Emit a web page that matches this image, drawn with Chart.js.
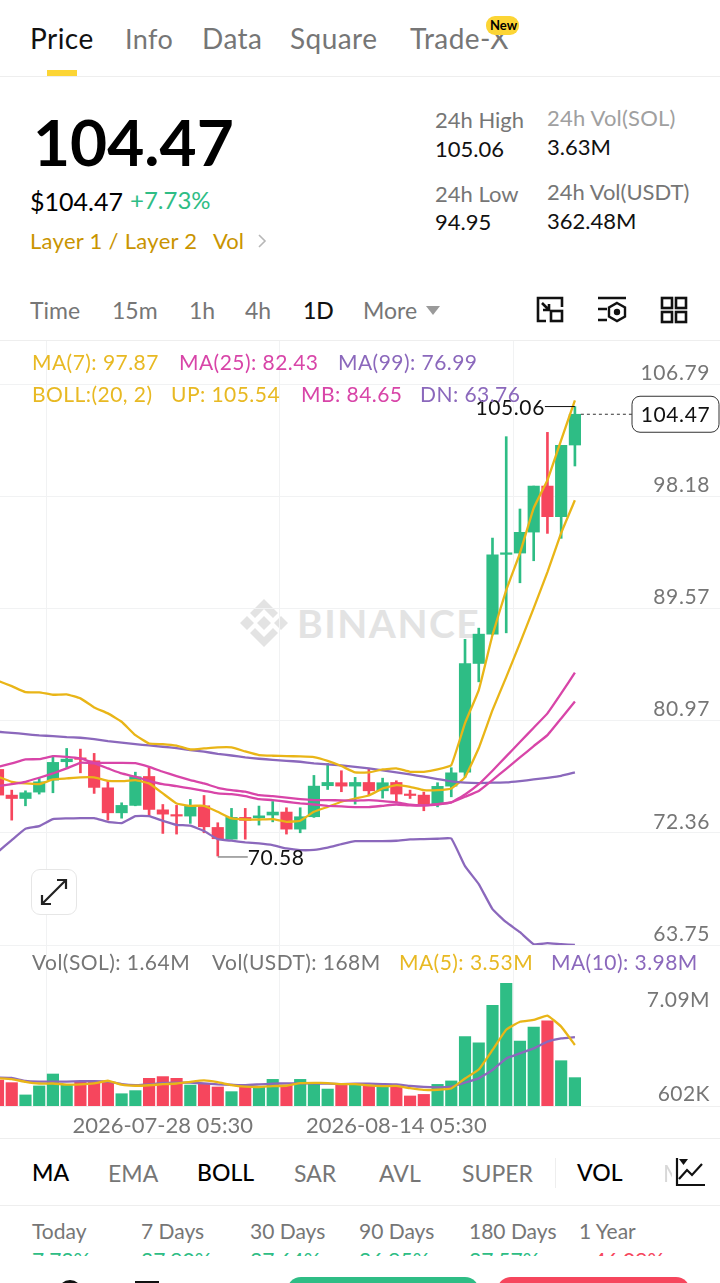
<!DOCTYPE html>
<html>
<head>
<meta charset="utf-8">
<title>SOL chart</title>
<script src="https://cdn.jsdelivr.net/npm/chart.js@4"></script>
<style>
html, body { margin: 0; padding: 0; background: #fff; }
#page { position: relative; width: 720px; height: 1283px; overflow: hidden; font-family: Lato, sans-serif; color: #000; }
.t { position: absolute; white-space: nowrap; line-height: 1; transform: translateY(-50%); }
.s { letter-spacing: .45px; }
.g { color: #767676; } .lg { color: #a0a0a0; } .k { color: #111; }
.line { position: absolute; left: 0; width: 720px; height: 1px; background: #eeeeee; }
.wrap { position: absolute; left: 0; width: 720px; overflow: hidden; }
.wrap canvas { position: absolute; left: -2px; top: 0; }
svg { position: absolute; }
</style>
</head>
<body>
<div id="page">
  <div class="t k s" style="left:30px;top:38px;font-size:28px;">Price</div>
  <div class="t g s" style="left:125px;top:38px;font-size:27px;">Info</div>
  <div class="t g s" style="left:202px;top:38px;font-size:28px;">Data</div>
  <div class="t g s" style="left:290px;top:38px;font-size:28px;">Square</div>
  <div class="t g s" style="left:410px;top:38px;font-size:28px;">Trade-X</div>
  <div style="position:absolute;left:486px;top:16px;width:33px;height:19px;border-radius:9px;background:#fcd535;"></div>
  <div class="t" style="left:490px;top:25px;font-size:13px;font-weight:700;">New</div>
  <div style="position:absolute;left:47px;top:70px;width:30px;height:6px;background:#fcd535;"></div>
  <div class="line" style="top:76px;"></div>

  <div class="t" style="left:33px;top:142px;font-size:64px;font-weight:700;">104.47</div>
  <div class="t" style="left:30px;top:201px;font-size:25px;">$104.47</div>
  <div class="t" style="left:130px;top:200px;font-size:24px;color:#2ebd85;">+7.73%</div>
  <div class="t" style="left:30px;top:241px;font-size:22px;letter-spacing:.3px;color:#c99400;">Layer 1 / Layer 2</div>
  <div class="t" style="left:213px;top:241px;font-size:22px;color:#c99400;">Vol</div>
  <svg style="left:256px;top:232px;" width="12" height="18"><path d="M3 3l6 6-6 6" fill="none" stroke="#b7b7b7" stroke-width="1.6"/></svg>

  <div class="t g" style="left:435px;top:120px;font-size:22px;">24h High</div>
  <div class="t k" style="left:435px;top:149px;font-size:22px;">105.06</div>
  <div class="t lg" style="left:547px;top:118px;font-size:22px;letter-spacing:.2px;">24h Vol(SOL)</div>
  <div class="t k" style="left:547px;top:147px;font-size:22px;">3.63M</div>
  <div class="t g" style="left:435px;top:194px;font-size:22px;">24h Low</div>
  <div class="t k" style="left:435px;top:222px;font-size:22px;">94.95</div>
  <div class="t g" style="left:547px;top:192px;font-size:22px;">24h Vol(USDT)</div>
  <div class="t k" style="left:547px;top:221px;font-size:22px;">362.48M</div>

  <div class="t g" style="left:30px;top:310px;font-size:23px;">Time</div>
  <div class="t g" style="left:112px;top:310px;font-size:23px;">15m</div>
  <div class="t g" style="left:189px;top:310px;font-size:23px;">1h</div>
  <div class="t g" style="left:245px;top:310px;font-size:23px;">4h</div>
  <div class="t k" style="left:303px;top:310px;font-size:23px;font-weight:500;">1D</div>
  <div class="t g" style="left:363px;top:310px;font-size:23px;">More</div>
  <svg style="left:425px;top:305px;" width="16" height="11"><path d="M1 1h14l-7 9z" fill="#9a9a9a"/></svg>
  <svg style="left:536px;top:296px;" width="28" height="28" fill="none" stroke="#111" stroke-width="2.6"><path d="M10 25H2V2h24v9"/><rect x="15" y="15" width="11" height="10"/><path d="M6 7l7 7M13 8v6H7"/></svg>
  <svg style="left:597px;top:296px;" width="30" height="28" fill="none" stroke="#111" stroke-width="2.4"><path d="M1 2h28M1 13h9M1 24h9"/><path d="M20 7l8 4.500v9L20 25l-8-4.500v-9z"/><circle cx="20" cy="16" r="2" fill="#111"/></svg>
  <svg style="left:660px;top:296px;" width="28" height="28" fill="none" stroke="#111" stroke-width="2.6"><rect x="2" y="2" width="10" height="10"/><rect x="16" y="2" width="10" height="10"/><rect x="2" y="16" width="10" height="10"/><rect x="16" y="16" width="10" height="10"/></svg>
  <div class="line" style="top:340px;"></div>

  <!-- watermark sits under the candles -->
  <svg style="left:240px;top:599px;" width="48" height="48" fill="#e3e3e3"><path d="M24 0l14 14-5 5-9-9-9 9-5-5zM24 48L10 34l5-5 9 9 9-9 5 5zM7 17l7 7-7 7-7-7zM41 17l7 7-7 7-7-7zM24 17l7 7-7 7-7-7z"/></svg>
  <div class="t" style="left:297px;top:623px;font-size:39px;font-weight:700;color:#e3e3e3;letter-spacing:1.5px;">BINANCE</div>

  <div class="wrap" style="top:341px;height:605px;"><canvas id="priceChart" width="728" height="605"></canvas></div>
  <div class="wrap" style="top:945px;height:193px;"><canvas id="volChart" width="728" height="193"></canvas></div>

  <div class="t s" style="left:32px;top:361px;font-size:21px;color:#e8b923;">MA(7): 97.87</div>
  <div class="t s" style="left:179px;top:361px;font-size:21px;color:#d845a8;">MA(25): 82.43</div>
  <div class="t s" style="left:338px;top:361px;font-size:21px;color:#8b68bc;">MA(99): 76.99</div>
  <div class="t s" style="left:32px;top:393px;font-size:21px;color:#e8b923;">BOLL:(20, 2)</div>
  <div class="t s" style="left:171px;top:393px;font-size:21px;color:#e8b923;">UP: 105.54</div>
  <div class="t s" style="left:301px;top:393px;font-size:21px;color:#d845a8;">MB: 84.65</div>
  <div class="t s" style="left:420px;top:393px;font-size:21px;color:#8b68bc;">DN: 63.76</div>

  <div style="position:absolute;left:31px;top:869px;width:44px;height:44px;border:1px solid #e6e6e6;border-radius:9px;background:#fff;"></div>
  <svg style="left:40px;top:878px;" width="28" height="28" fill="none" stroke="#222" stroke-width="2.2"><path d="M2 26L26 2M17 2h9v9M2 17v9h9"/></svg>

  <div class="t g s" style="left:32px;top:961px;font-size:21px;">Vol(SOL): 1.64M</div>
  <div class="t g s" style="left:212px;top:961px;font-size:21px;">Vol(USDT): 168M</div>
  <div class="t s" style="left:399px;top:961px;font-size:21px;color:#e8b923;">MA(5): 3.53M</div>
  <div class="t s" style="left:551px;top:961px;font-size:21px;color:#8b68bc;">MA(10): 3.98M</div>
  <div class="t g s" style="right:10px;top:998px;font-size:21px;">7.09M</div>
  <div class="t g s" style="right:10px;top:1092px;font-size:21px;">602K</div>

  <div class="line" style="top:1138px;"></div>
  <div class="t" style="left:32px;top:1172px;font-size:23px;font-weight:500;">MA</div>
  <div class="t g" style="left:108px;top:1173px;font-size:23px;">EMA</div>
  <div class="t" style="left:197px;top:1172px;font-size:23px;font-weight:500;">BOLL</div>
  <div class="t g" style="left:294px;top:1173px;font-size:23px;">SAR</div>
  <div class="t g" style="left:379px;top:1173px;font-size:23px;">AVL</div>
  <div class="t g" style="left:462px;top:1173px;font-size:23px;">SUPER</div>
  <div style="position:absolute;left:555px;top:1158px;width:1px;height:30px;background:#eeeeee;"></div>
  <div class="t" style="left:577px;top:1172px;font-size:23px;font-weight:500;">VOL</div>
  <div class="t" style="left:663px;top:1173px;font-size:23px;color:#d8d8d8;">M</div>
  <div style="position:absolute;left:672px;top:1156px;width:48px;height:34px;background:#fff;"></div>
  <svg style="left:675px;top:1156px;" width="31" height="32" fill="none" stroke="#111" stroke-width="2.2"><path d="M2 2v27h28M4 23l8-9 5 5 10-11"/><path d="M4 3h9l-4.500 6z" fill="#111" stroke="none"/></svg>
  <div class="line" style="top:1205px;"></div>

  <div class="t g" style="left:32px;top:1230px;font-size:21px;">Today</div>
  <div class="t g" style="left:141px;top:1230px;font-size:21px;">7 Days</div>
  <div class="t g" style="left:250px;top:1230px;font-size:21px;">30 Days</div>
  <div class="t g" style="left:359px;top:1230px;font-size:21px;">90 Days</div>
  <div class="t g" style="left:469px;top:1230px;font-size:21px;">180 Days</div>
  <div class="t g" style="left:579px;top:1230px;font-size:21px;">1 Year</div>
  <div class="t" style="left:32px;top:1259px;font-size:21px;color:#2ebd85;">7.73%</div>
  <div class="t" style="left:141px;top:1259px;font-size:21px;color:#2ebd85;">27.90%</div>
  <div class="t" style="left:250px;top:1259px;font-size:21px;color:#2ebd85;">37.64%</div>
  <div class="t" style="left:359px;top:1259px;font-size:21px;color:#2ebd85;">26.95%</div>
  <div class="t" style="left:469px;top:1259px;font-size:21px;color:#2ebd85;">37.57%</div>
  <div class="t" style="left:586px;top:1259px;font-size:21px;color:#f6465d;">-46.09%</div>
  <div style="position:absolute;left:0;top:1256px;width:720px;height:27px;background:#fff;"></div>
  <div style="position:absolute;left:58px;top:1280px;width:24px;height:24px;border-radius:12px;border:3px solid #111;box-sizing:border-box;"></div>
  <div style="position:absolute;left:135px;top:1281px;width:24px;height:2px;background:#111;"></div>
  <div style="position:absolute;left:287px;top:1277px;width:192px;height:30px;border-radius:14px;background:#2ebd85;"></div>
  <div style="position:absolute;left:497px;top:1277px;width:193px;height:30px;border-radius:14px;background:#f6465d;"></div>
</div>

<script>
const dates = [
  "2026-07-16 05:30", "2026-07-17 05:30", "2026-07-18 05:30", "2026-07-19 05:30", "2026-07-20 05:30",
  "2026-07-21 05:30", "2026-07-22 05:30", "2026-07-23 05:30", "2026-07-24 05:30", "2026-07-25 05:30",
  "2026-07-26 05:30", "2026-07-27 05:30", "2026-07-28 05:30", "2026-07-29 05:30", "2026-07-30 05:30",
  "2026-07-31 05:30", "2026-08-01 05:30", "2026-08-02 05:30", "2026-08-03 05:30", "2026-08-04 05:30",
  "2026-08-05 05:30", "2026-08-06 05:30", "2026-08-07 05:30", "2026-08-08 05:30", "2026-08-09 05:30",
  "2026-08-10 05:30", "2026-08-11 05:30", "2026-08-12 05:30", "2026-08-13 05:30", "2026-08-14 05:30",
  "2026-08-15 05:30", "2026-08-16 05:30", "2026-08-17 05:30", "2026-08-18 05:30", "2026-08-19 05:30",
  "2026-08-20 05:30", "2026-08-21 05:30", "2026-08-22 05:30", "2026-08-23 05:30", "2026-08-24 05:30",
  "2026-08-25 05:30", "2026-08-26 05:30", "2026-08-27 05:30"
];
const opens = [77.22, 75.25, 74.99, 75.48, 76.40, 77.81, 78.11, 77.88, 75.81, 73.89, 74.46, 76.68, 74.12, 73.74, 73.64, 74.43, 72.77, 71.87, 73.54, 73.51, 73.72, 73.95, 72.64, 73.59, 75.97, 76.20, 75.94, 76.22, 75.58, 76.22, 75.33, 75.25, 74.56, 75.94, 77.01, 85.35, 87.60, 93.72, 93.82, 95.43, 98.96, 96.61, 102.11];
const closes = [75.25, 74.99, 75.43, 76.27, 77.76, 78.01, 77.99, 75.84, 73.89, 74.46, 76.66, 74.15, 73.79, 73.64, 74.43, 72.82, 71.90, 73.54, 73.31, 73.66, 73.95, 72.64, 73.59, 75.94, 76.22, 75.94, 76.22, 75.58, 76.20, 75.33, 75.22, 74.56, 75.92, 76.96, 85.35, 87.60, 93.69, 93.84, 95.41, 98.96, 96.61, 102.09, 104.47];
const highs = [77.60, 75.63, 75.58, 76.53, 78.27, 78.83, 78.78, 78.45, 76.35, 74.66, 77.01, 77.37, 74.53, 74.46, 74.92, 75.22, 73.13, 74.23, 74.23, 74.41, 74.76, 74.28, 74.28, 76.76, 77.68, 77.12, 76.61, 77.25, 76.55, 76.35, 75.63, 75.48, 76.20, 77.35, 87.20, 88.06, 94.97, 102.75, 97.20, 98.96, 103.08, 102.09, 105.06];
const lows = [74.90, 73.33, 74.43, 75.33, 75.43, 77.37, 76.96, 75.38, 73.33, 73.48, 74.43, 73.64, 72.31, 72.26, 73.08, 72.36, 70.58, 71.87, 71.87, 72.95, 73.20, 72.26, 72.36, 73.54, 75.68, 75.51, 74.56, 75.25, 75.02, 74.66, 74.99, 74.05, 74.35, 75.12, 76.61, 83.94, 87.55, 87.70, 91.54, 93.23, 95.33, 94.95, 100.50];

const ma7 = [76.66, 76.27, 76.15, 76.09, 76.45, 76.53, 76.61, 76.61, 76.35, 76.32, 76.40, 76.15, 75.38, 74.61, 74.43, 74.43, 73.97, 73.46, 73.38, 73.38, 73.41, 73.20, 73.28, 73.97, 74.35, 74.74, 74.99, 75.22, 75.76, 76.02, 75.89, 75.63, 75.63, 75.76, 76.63, 78.86, 81.77, 84.30, 86.91, 89.60, 92.36, 95.36, 97.87];
const ma25 = [75.94, 76.09, 76.27, 76.58, 76.91, 77.30, 77.73, 77.68, 77.30, 76.91, 76.66, 76.35, 76.09, 75.94, 75.76, 75.58, 75.38, 75.33, 75.17, 74.94, 74.87, 74.74, 74.61, 74.53, 74.43, 74.38, 74.33, 74.33, 74.43, 74.53, 74.46, 74.46, 74.53, 74.69, 75.12, 75.56, 76.40, 77.27, 78.14, 79.01, 79.85, 81.13, 82.43];
const ma99 = [80.11, 80.03, 79.93, 79.83, 79.78, 79.70, 79.65, 79.55, 79.39, 79.27, 79.16, 79.06, 78.96, 78.86, 78.70, 78.58, 78.42, 78.29, 78.14, 78.04, 77.96, 77.88, 77.81, 77.68, 77.60, 77.53, 77.42, 77.30, 77.14, 76.99, 76.84, 76.66, 76.48, 76.30, 76.20, 76.17, 76.20, 76.22, 76.32, 76.45, 76.58, 76.73, 76.99];
const bollUp = [84.02, 83.61, 83.15, 83.13, 82.95, 82.98, 82.67, 81.98, 81.52, 80.88, 79.85, 79.21, 79.16, 79.04, 78.75, 78.83, 78.91, 78.91, 78.60, 78.32, 78.27, 78.24, 78.22, 78.17, 77.88, 77.48, 76.99, 76.99, 77.22, 77.30, 77.04, 77.04, 77.22, 77.55, 80.77, 83.31, 87.53, 90.98, 93.82, 97.27, 99.42, 102.49, 105.54];
const bollMb = [77.42, 77.68, 77.99, 78.01, 78.24, 78.19, 78.06, 77.73, 77.73, 77.73, 77.71, 77.42, 77.04, 76.71, 76.40, 76.15, 75.81, 75.63, 75.51, 75.25, 75.17, 75.05, 74.94, 74.87, 74.87, 74.84, 74.82, 74.87, 74.79, 74.69, 74.51, 74.46, 74.56, 74.69, 75.30, 76.09, 77.12, 78.22, 79.32, 80.42, 81.52, 83.05, 84.65];
const bollDn = [70.90, 71.80, 72.67, 72.87, 73.41, 73.46, 73.48, 73.48, 73.20, 73.10, 73.64, 73.64, 73.28, 72.97, 72.90, 72.49, 71.87, 71.75, 71.62, 71.54, 71.41, 71.16, 71.03, 71.05, 71.23, 71.49, 71.72, 71.72, 71.72, 71.75, 71.85, 71.87, 71.90, 71.92, 69.80, 68.42, 66.50, 65.50, 64.73, 63.81, 63.89, 63.81, 63.76];

// volumes in millions of SOL
const volumes = [1.50, 1.35, 0.64, 1.16, 1.85, 1.21, 1.41, 1.41, 1.41, 0.71, 0.89, 1.60, 1.70, 1.60, 1.21, 1.31, 1.10, 0.83, 1.16, 1.12, 1.54, 1.21, 1.54, 1.31, 0.98, 1.25, 1.21, 1.18, 1.12, 1.08, 0.58, 0.67, 1.25, 1.45, 4.01, 3.66, 5.82, 7.09, 3.76, 4.57, 4.93, 2.62, 1.64];
const volMa5 = [1.60, 1.55, 1.40, 1.30, 1.30, 1.24, 1.25, 1.31, 1.46, 1.23, 1.17, 1.20, 1.26, 1.30, 1.40, 1.48, 1.38, 1.21, 1.12, 1.10, 1.15, 1.17, 1.32, 1.34, 1.32, 1.26, 1.26, 1.19, 1.15, 1.16, 1.03, 0.93, 0.94, 1.01, 1.59, 2.11, 3.24, 4.41, 4.87, 4.98, 5.23, 4.59, 3.53];
const volMa10 = [1.64, 1.62, 1.45, 1.41, 1.41, 1.41, 1.43, 1.43, 1.41, 1.27, 1.21, 1.25, 1.33, 1.35, 1.35, 1.31, 1.25, 1.23, 1.21, 1.25, 1.29, 1.31, 1.31, 1.31, 1.29, 1.27, 1.29, 1.29, 1.27, 1.25, 1.16, 1.10, 1.08, 1.12, 1.35, 1.60, 2.08, 2.75, 3.04, 3.33, 3.72, 3.91, 3.98];

const priceTicks = [106.79, 98.18, 89.57, 80.97, 72.36, 63.75];
const dateTicks = ["2026-07-28 05:30", "2026-08-14 05:30"];
const lastPrice = 104.47, dayHigh = 105.06, dayLow = 70.58;

const GREEN = '#2ebd85', RED = '#f6465d';
const YELLOW = '#e9b517', PINK = '#d845a8', PURPLE = '#8b68bc';
const GRID = '#f1f2f3';
// empty slots keep the right side of the chart free, as in the app
const labels = dates.concat(Array(11).fill(''));
const candleColor = opens.map((o, i) => closes[i] >= o ? GREEN : RED);

Chart.defaults.animation = false;
Chart.defaults.responsive = false;
Chart.defaults.font.family = 'Lato, sans-serif';

function lineSet(data, color) {
    return { type: 'line', data, borderColor: color, borderWidth: 2.3, pointRadius: 0, tension: 0.1, order: 1 };
}

function xAxis(showLabels) {
    return {
        offset: false,
        border: { display: showLabels, color: '#f0f0f0' },
        grid: { color: GRID, drawTicks: false },
        ticks: { display: showLabels, autoSkip: false, maxRotation: 0, color: '#767676', font: { size: 22 }, padding: 7 },
        afterBuildTicks: s => { s.ticks = dateTicks.map(d => ({ value: labels.indexOf(d) })); }
    };
}

// tick labels sit above their grid lines, plus the high, low and last price tags
const priceOverlay = {
    id: 'priceOverlay',
    afterDatasetsDraw(chart) {
        const { ctx, scales: { x, y } } = chart;
        ctx.save();
        ctx.font = '21px Lato, sans-serif';
        ctx.letterSpacing = '0.6px';
        ctx.fillStyle = '#767676';
        ctx.textAlign = 'right';
        ctx.textBaseline = 'middle';
        priceTicks.forEach(v => ctx.fillText(v.toFixed(2), 712, y.getPixelForValue(v) - 11));

        const hx = x.getPixelForValue(highs.indexOf(dayHigh));
        const hy = y.getPixelForValue(dayHigh);
        ctx.strokeStyle = '#111';
        ctx.lineWidth = 1;
        ctx.beginPath(); ctx.moveTo(hx - 30, hy); ctx.lineTo(hx, hy); ctx.stroke();
        ctx.fillStyle = '#111';
        ctx.fillText(dayHigh.toFixed(2), hx - 30, hy + 2);

        const lx = x.getPixelForValue(lows.indexOf(dayLow));
        const ly = y.getPixelForValue(dayLow);
        ctx.strokeStyle = '#555';
        ctx.beginPath(); ctx.moveTo(lx, ly + 1); ctx.lineTo(lx + 30, ly + 1); ctx.stroke();
        ctx.textAlign = 'left';
        ctx.fillText(dayLow.toFixed(2), lx + 30, ly + 2);

        const px = x.getPixelForValue(closes.length - 1) + 6;
        const py = y.getPixelForValue(lastPrice);
        ctx.strokeStyle = '#333';
        ctx.setLineDash([3, 3]);
        ctx.beginPath(); ctx.moveTo(px, py); ctx.lineTo(634, py); ctx.stroke();
        ctx.setLineDash([]);
        ctx.fillStyle = '#fff';
        ctx.beginPath(); ctx.roundRect(634, py - 18, 87, 36, 8); ctx.fill(); ctx.stroke();
        ctx.fillStyle = '#111';
        ctx.textAlign = 'center';
        ctx.fillText(lastPrice.toFixed(2), 677.5, py + 1);
        ctx.restore();
    }
};

new Chart(document.getElementById('priceChart'), {
    type: 'bar',
    plugins: [priceOverlay],
    data: {
        labels,
        datasets: [
            lineSet(bollUp, YELLOW),
            lineSet(bollDn, PURPLE),
            lineSet(bollMb, PINK),
            lineSet(ma25, PINK),
            lineSet(ma99, PURPLE),
            lineSet(ma7, YELLOW),
            { data: opens.map((o, i) => [o, closes[i]]), backgroundColor: candleColor, barThickness: 11.5, grouped: false, minBarLength: 1.5, order: 2 },
            { data: lows.map((l, i) => [l, highs[i]]), backgroundColor: candleColor, barThickness: 2, grouped: false, order: 3 }
        ]
    },
    options: {
        layout: { padding: { bottom: 1 } },
        plugins: { legend: { display: false }, tooltip: { enabled: false } },
        scales: {
            x: xAxis(false),
            y: {
                position: 'right', min: 63.75, max: 110.09,
                border: { display: false },
                grid: { color: GRID, drawTicks: false },
                ticks: { display: false },
                afterBuildTicks: s => { s.ticks = priceTicks.map(value => ({ value })); },
                afterFit: s => { s.width = 0; }
            }
        }
    }
});

new Chart(document.getElementById('volChart'), {
    type: 'bar',
    data: {
        labels,
        datasets: [
            lineSet(volMa5, YELLOW),
            lineSet(volMa10, PURPLE),
            { data: volumes, backgroundColor: candleColor, barThickness: 11.5, order: 2 }
        ]
    },
    options: {
        plugins: { legend: { display: false }, tooltip: { enabled: false } },
        scales: {
            x: Object.assign(xAxis(true), { afterFit: s => { s.height = 32; } }),
            y: {
                position: 'right', min: 0, max: 9.31,
                grid: { display: false }, border: { display: false },
                ticks: { display: false },
                afterFit: s => { s.width = 0; }
            }
        }
    }
});
</script>
</body>
</html>
